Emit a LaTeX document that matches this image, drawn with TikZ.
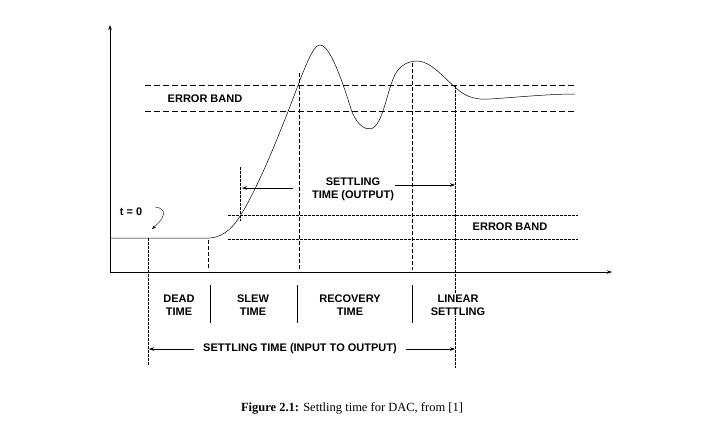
\documentclass[tikz,border=0pt]{standalone}
\usepackage{fontspec}
\setmainfont{Liberation Serif}
\newfontfamily\lab{Liberation Sans}
\usetikzlibrary{arrows.meta}
\begin{document}
\begin{tikzpicture}[x=1pt,y=-1pt,
  lbl/.style={font=\lab\bfseries\fontsize{11}{13}\selectfont,align=center,inner sep=1pt},
  ax/.style={line width=0.6pt,-{Stealth[length=5pt,width=3.5pt]}},
  arr/.style={line width=0.5pt,-{Stealth[length=5pt,width=3.5pt]}},
  band/.style={line width=0.6pt,dash pattern=on 6pt off 3pt},
  dotb/.style={line width=0.6pt,dash pattern=on 2.5pt off 1.5pt},
  vdash/.style={line width=0.5pt,dash pattern=on 4pt off 2pt},
  curve/.style={line width=0.5pt}]
\useasboundingbox (0,0) rectangle (705,445);
% axes
\coordinate (o) at (110,272);
\coordinate (ytop) at (110,25);
\coordinate (xend) at (612,272);
\draw[ax] (o) -- (ytop);
\draw[ax] (o) -- (xend);
% error bands
\draw[band] (145,85) -- (575,85);
\draw[band] (145,111) -- (575,111);
\draw[dotb] (228,215) -- (578,215);
\draw[dotb] (228,239) -- (578,239);
\node[lbl] (eb1) at (205,99) {ERROR BAND};
\node[lbl] (eb2) at (510,227) {ERROR BAND};
% response curve
\draw[curve] (110,238) -- (210,238)
  .. controls (225,237) and (235,225) .. (242,213)
  .. controls (262,180) and (285,120) .. (300,80)
  .. controls (308,60) and (314,45) .. (320,45)
  .. controls (330,45) and (342,80) .. (352,112)
  .. controls (358,126) and (366,131) .. (373,128)
  .. controls (385,120) and (388,82) .. (398,70)
  .. controls (405,62) and (412,61) .. (418,61)
  .. controls (432,62) and (446,80) .. (455,87)
  .. controls (466,98) and (478,100) .. (490,99)
  .. controls (520,97) and (550,94) .. (575,94);
% vertical markers
\draw[dotb] (148,238) -- (148,365);
\draw[vdash] (208,240) -- (208,270);
\draw[vdash] (299,73) -- (299,270);
\draw[vdash] (412,63) -- (412,270);
\draw[dotb] (455,86) -- (455,368);
\draw[dotb] (240,167) -- (240,221);
% settling time output
\node[lbl] (sto) at (353,189) {SETTLING\\TIME (OUTPUT)};
\coordinate (sa) at (242,188);
\coordinate (sb) at (455,185);
\draw[arr] (293,188) -- (sa);
\draw[arr] (395,185) -- (sb);
% t=0
\node[lbl] (t0) at (131,212) {t = 0};
\coordinate (t0a) at (152,229);
\draw[arr,line width=0.4pt,-{Stealth[length=4pt,width=3pt]}] (155,207) .. controls (165,208) and (168,215) .. (t0a);
% phase separators
\draw[line width=0.5pt] (210,285) -- (210,323);
\draw[line width=0.5pt] (297,285) -- (297,323);
\draw[line width=0.5pt] (412,285) -- (412,323);
\node[lbl] (dead) at (179,305) {DEAD\\TIME};
\node[lbl] (slew) at (253,305) {SLEW\\TIME};
\node[lbl] (rec) at (350,305) {RECOVERY\\TIME};
\node[lbl,fill=white] (lin) at (458,305) {LINEAR\\SETTLING};
% bottom settling time
\node[lbl] (sti) at (300,349) {SETTLING TIME (INPUT TO OUTPUT)};
\coordinate (ba) at (149,349);
\coordinate (bb) at (455,349);
\draw[arr] (sti.west) ++(-8,0) -- (ba);
\draw[arr] (sti.east) ++(8,0) -- (bb);
% caption
\node[font=\fontsize{12.5}{14}\selectfont,inner sep=0] (cap) at (352,408) {\textbf{Figure 2.1:} Settling time for DAC, from [1]};
\end{tikzpicture}
\end{document}
